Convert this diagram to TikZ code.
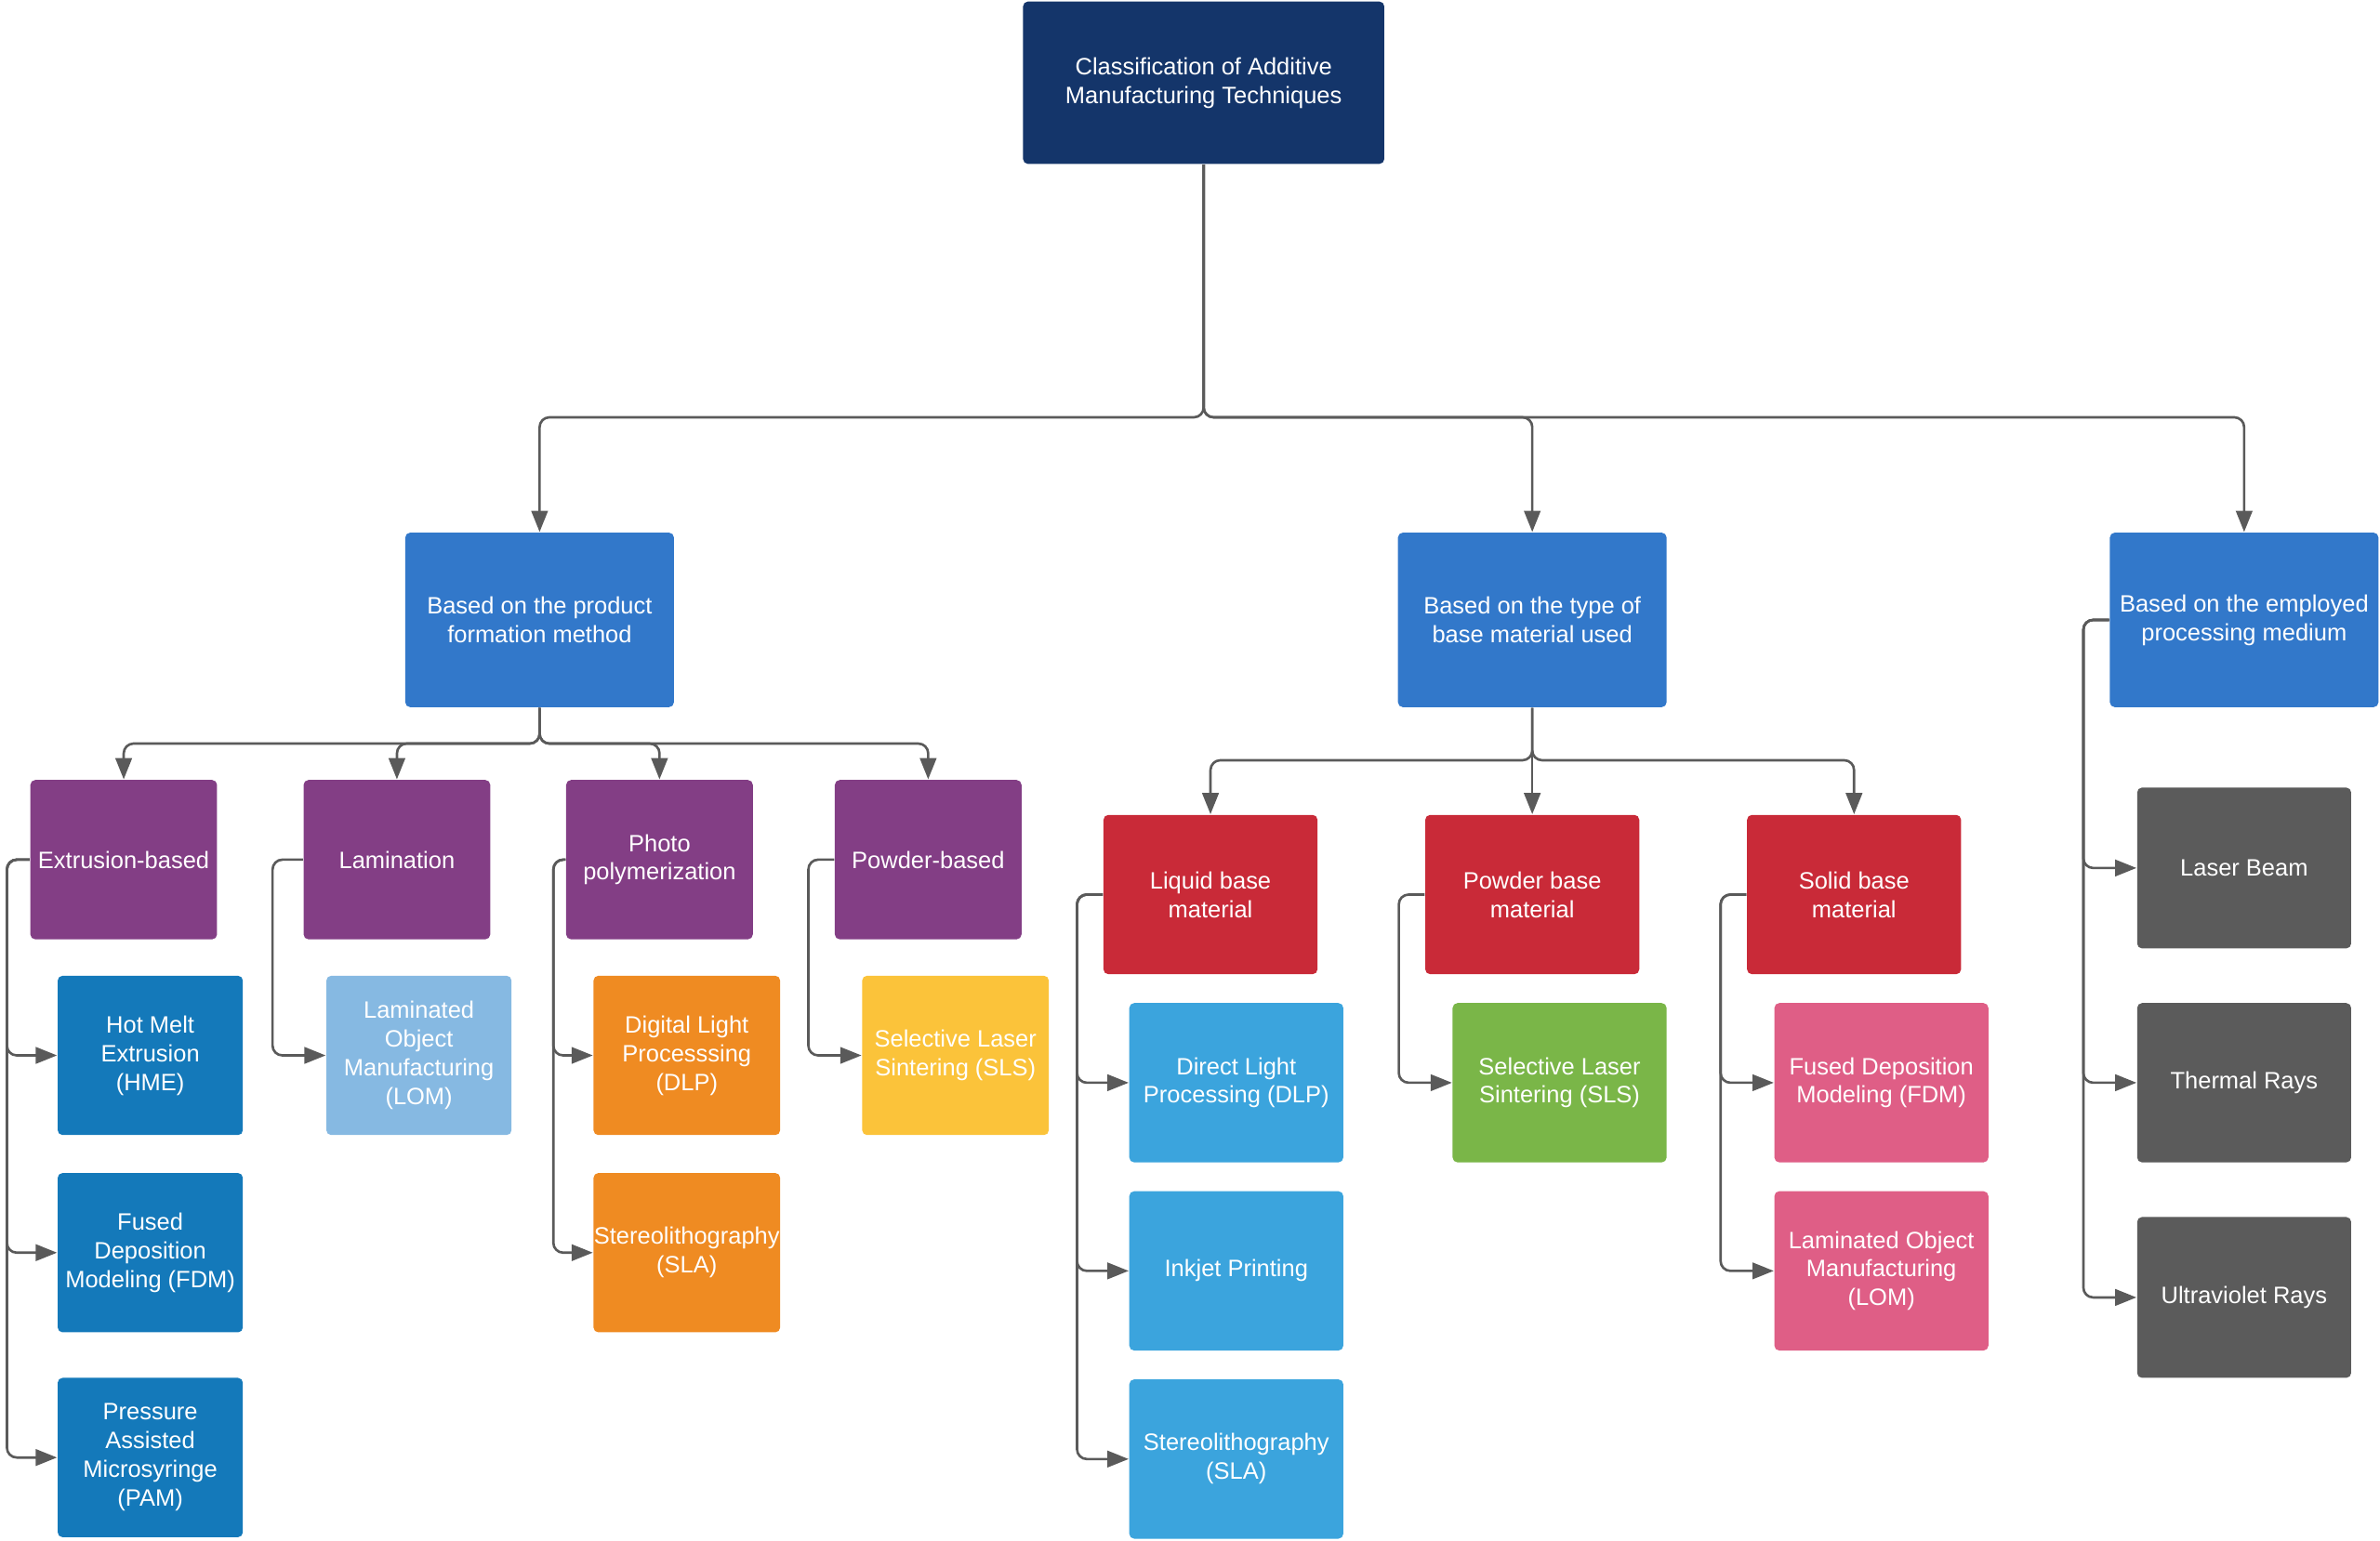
\documentclass[tikz,border=0pt]{standalone}
\usepackage{fontspec}
\setmainfont{Liberation Sans}
\usetikzlibrary{arrows.meta}
\definecolor{navy}{RGB}{20,53,106}
\definecolor{catblue}{RGB}{50,120,202}
\definecolor{purp}{RGB}{131,62,133}
\definecolor{deepblue}{RGB}{20,121,186}
\definecolor{paleblue}{RGB}{134,185,226}
\definecolor{orng}{RGB}{239,139,34}
\definecolor{yell}{RGB}{251,195,58}
\definecolor{redb}{RGB}{201,42,56}
\definecolor{skyb}{RGB}{59,164,221}
\definecolor{grn}{RGB}{122,182,72}
\definecolor{pink}{RGB}{223,94,134}
\definecolor{greyb}{RGB}{91,91,91}
\definecolor{linegrey}{RGB}{90,90,90}
\tikzset{
  box/.style={fill=#1, text=white, rounded corners=1.5pt, inner sep=0pt, align=center,
    font=\fontsize{7.25}{8.8}\selectfont},
  sz/.style 2 args={minimum width=#1*0.016327cm, minimum height=#2*0.016327cm},
  arr/.style={draw=linegrey, line width=0.75pt, rounded corners=3pt,
    -{Triangle[length=6.5pt,width=5pt]}}
}
\begin{document}
\begin{tikzpicture}[x=0.016327cm,y=-0.016327cm]
\useasboundingbox (0,0) rectangle (1568,1015);

% root
\node[box=navy, sz={238}{107}] (root) at (793,54.5) {Classification of Additive\\Manufacturing Techniques};

% level 2
\node[box=catblue, sz={177}{115}] (A) at (355.5,408.5) {Based on the product\\formation method};
\node[box=catblue, sz={177}{115}] (B) at (1009.5,408.5) {Based on the type of\\base material used};
\node[box=catblue, sz={177}{115}] (C) at (1478.5,408.5) {Based on the employed\\processing medium};

% purple
\node[box=purp, sz={123}{105}] (ext) at (81.5,566.5) {Extrusion-based};
\node[box=purp, sz={123}{105}] (lam) at (261.5,566.5) {Lamination};
\node[box=purp, sz={123}{105}] (pho) at (434.5,566.5) {Photo\\polymerization};
\node[box=purp, sz={123}{105}] (pow) at (611.5,566.5) {Powder-based};

% extrusion children
\node[box=deepblue, sz={122}{105}] (hme) at (99,695.5) {Hot Melt\\Extrusion\\(HME)};
\node[box=deepblue, sz={122}{105}] (fdm) at (99,825.5) {Fused\\Deposition\\Modeling (FDM)};
\node[box=deepblue, sz={122}{105}] (pam) at (99,960.5) {Pressure\\Assisted\\Microsyringe\\(PAM)};
% lamination child
\node[box=paleblue, sz={122}{105}] (lom) at (276,695.5) {Laminated\\Object\\Manufacturing\\(LOM)};
% photo children
\node[box=orng, sz={123}{105}] (dlp) at (452.5,695.5) {Digital Light\\Processsing\\(DLP)};
\node[box=orng, sz={123}{105}] (sla) at (452.5,825.5) {Stereolithography\\(SLA)};
% powder child
\node[box=yell, sz={123}{105}] (sls) at (629.5,695.5) {Selective Laser\\Sintering (SLS)};

% red
\node[box=redb, sz={141}{105}] (liq) at (797.5,589.5) {Liquid base\\material};
\node[box=redb, sz={141}{105}] (pbm) at (1009.5,589.5) {Powder base\\material};
\node[box=redb, sz={141}{105}] (sol) at (1221.5,589.5) {Solid base\\material};

\node[box=skyb, sz={141}{105}] (bdlp) at (814.5,713.5) {Direct Light\\Processing (DLP)};
\node[box=skyb, sz={141}{105}] (ink) at (814.5,837.5) {Inkjet Printing};
\node[box=skyb, sz={141}{105}] (bsla) at (814.5,961.5) {Stereolithography\\(SLA)};
\node[box=grn, sz={141}{105}] (bsls) at (1027.5,713.5) {Selective Laser\\Sintering (SLS)};
\node[box=pink, sz={141}{105}] (bfdm) at (1239.5,713.5) {Fused Deposition\\Modeling (FDM)};
\node[box=pink, sz={141}{105}] (blom) at (1239.5,837.5) {Laminated Object\\Manufacturing\\(LOM)};

% grey
\node[box=greyb, sz={141}{106}] (las) at (1478.5,572) {Laser Beam};
\node[box=greyb, sz={141}{105}] (the) at (1478.5,713.5) {Thermal Rays};
\node[box=greyb, sz={141}{106}] (uvr) at (1478.5,855) {Ultraviolet Rays};

% hubs
\coordinate (h1) at (793,275);
\coordinate (hA) at (355.5,490);
\coordinate (hB) at (1009.5,501);

\draw[arr] (root.south) -- (h1) -| (A.north);
\draw[arr] (root.south) -- (h1) -| (B.north);
\draw[arr] (root.south) -- (h1) -| (C.north);

\draw[arr] (A.south) -- (hA) -| (ext.north);
\draw[arr] (A.south) -- (hA) -| (lam.north);
\draw[arr] (A.south) -- (hA) -| (pho.north);
\draw[arr] (A.south) -- (hA) -| (pow.north);

\draw[arr] (B.south) -- (hB) -| (liq.north);
\draw[arr] (B.south) -- (hB) -| (pbm.north);
\draw[arr] (B.south) -- (hB) -| (sol.north);

\draw[arr] (ext.west) -- ++(-15,0) |- (hme.west);
\draw[arr] (ext.west) -- ++(-15,0) |- (fdm.west);
\draw[arr] (ext.west) -- ++(-15,0) |- (pam.west);
\draw[arr] (lam.west) -- ++(-20,0) |- (lom.west);
\draw[arr] (pho.west) -- ++(-8,0) |- (dlp.west);
\draw[arr] (pho.west) -- ++(-8,0) |- (sla.west);
\draw[arr] (pow.west) -- ++(-17,0) |- (sls.west);

\draw[arr] (liq.west) -- ++(-17,0) |- (bdlp.west);
\draw[arr] (liq.west) -- ++(-17,0) |- (ink.west);
\draw[arr] (liq.west) -- ++(-17,0) |- (bsla.west);
\draw[arr] (pbm.west) -- ++(-17,0) |- (bsls.west);
\draw[arr] (sol.west) -- ++(-17,0) |- (bfdm.west);
\draw[arr] (sol.west) -- ++(-17,0) |- (blom.west);

\draw[arr] (C.west) -- ++(-17,0) |- (las.west);
\draw[arr] (C.west) -- ++(-17,0) |- (the.west);
\draw[arr] (C.west) -- ++(-17,0) |- (uvr.west);
\end{tikzpicture}
\end{document}
